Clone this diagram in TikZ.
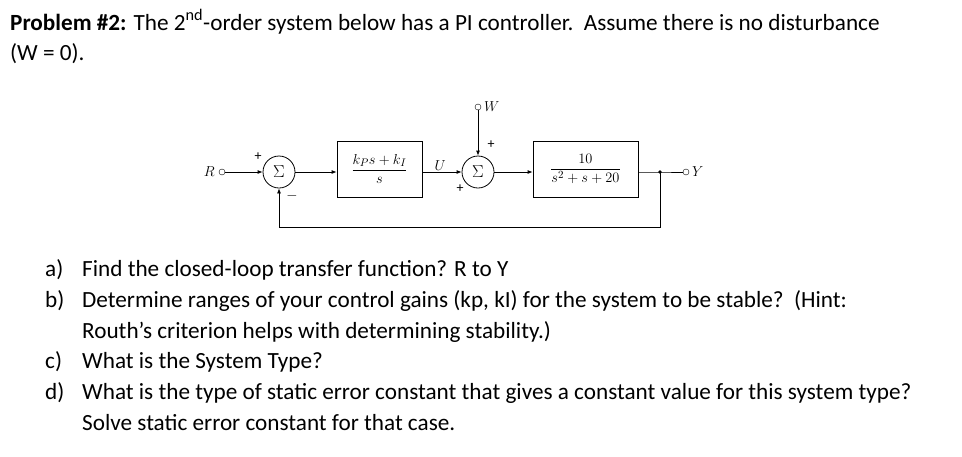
\documentclass[tikz,border=0pt]{standalone}
\usepackage{fontspec}
\setmainfont{Carlito}
\usetikzlibrary{arrows.meta}
\begin{document}
\begin{tikzpicture}[x=1pt,y=-1pt,
  txt/.style={anchor=base west,inner sep=0pt,font=\fontsize{23.2}{27}\selectfont},
  blk/.style={draw,line width=0.8pt,minimum width=85pt,minimum height=56pt,inner sep=0pt,font=\fontsize{15}{18}\selectfont},
  sumn/.style={draw,circle,line width=0.8pt,minimum size=32pt,inner sep=0pt,font=\fontsize{18}{20}\selectfont},
  port/.style={draw,circle,minimum size=6pt,inner sep=0pt},
  dm/.style={font=\fontsize{15}{18}\selectfont,inner sep=1pt},
  sg/.style={font=\fontsize{14}{16}\selectfont,inner sep=0pt},
  arr/.style={-{Latex[length=5pt,width=4pt]},line width=0.8pt},
  ln/.style={line width=0.8pt}]
\useasboundingbox (0,0) rectangle (962,456);
\fill[white] (0,0) rectangle (962,456);
\node[txt] (t1) at (10,30) {\textbf{Problem \#2:} The 2\textsuperscript{nd}-order system below has a PI controller.\ \ Assume there is no disturbance};
\node[txt] (t2) at (10,60) {(W = 0).};
% diagram
\node[dm,anchor=east] (R) at (216,172) {$R$};
\node[port] (rp) at (222,172) {};
\node[sumn] (s1) at (279,172) {$\Sigma$};
\node[blk,minimum width=85pt] (b1) at (379.5,169) {$\displaystyle\frac{k_P s+k_I}{s}$};
\node[sumn] (s2) at (478,172) {$\Sigma$};
\node[blk,minimum width=105pt] (b2) at (585.5,169) {$\displaystyle\frac{10}{s^2+s+20}$};
\coordinate (br) at (660,172);
\fill (br) circle (1.8pt);
\node[port] (yp) at (686,172) {};
\node[dm,anchor=west] (Y) at (691,172) {$Y$};
\node[port] (wp) at (478,107) {};
\node[dm,anchor=west] (W) at (483,107) {$W$};
\coordinate (fb) at (660,227);
\coordinate (fb1) at (279,227);
\draw[arr] (rp) -- (s1);
\draw[arr] (s1) -- (b1.west |- s1);
\draw[arr] (b1.east |- s2) -- node[dm,above,pos=0.45] (U) {$U$} (s2);
\draw[arr] (s2) -- (b2.west |- s2);
\draw[ln] (b2.east |- br) -- (br) -- (yp);
\draw[arr] (br) -- (fb) -- (fb1) -- (s1);
\draw[arr] (wp) -- (s2);
\node[sg] (p1) at (258,157) {+};
\node[sg] (m1) at (292,196) {$-$};
\node[sg] (p2) at (460,189) {+};
\node[sg] (p3) at (491,145) {+};
% questions
\node[txt] (a) at (45,276) {a)};
\node[txt] (qa) at (82,276) {Find the closed-loop transfer function? R to Y};
\node[txt] (b) at (45,307) {b)};
\node[txt] (qb) at (82,307) {Determine ranges of your control gains (kp, kI) for the system to be stable?\ \ (Hint:};
\node[txt] (qb2) at (82,338) {Routh’s criterion helps with determining stability.)};
\node[txt] (c) at (45,368) {c)};
\node[txt] (qc) at (82,368) {What is the System Type?};
\node[txt] (d) at (45,399) {d)};
\node[txt] (qd) at (82,399) {What is the type of static error constant that gives a constant value for this system type?};
\node[txt] (qd2) at (82,430) {Solve static error constant for that case.};
\end{tikzpicture}
\end{document}
